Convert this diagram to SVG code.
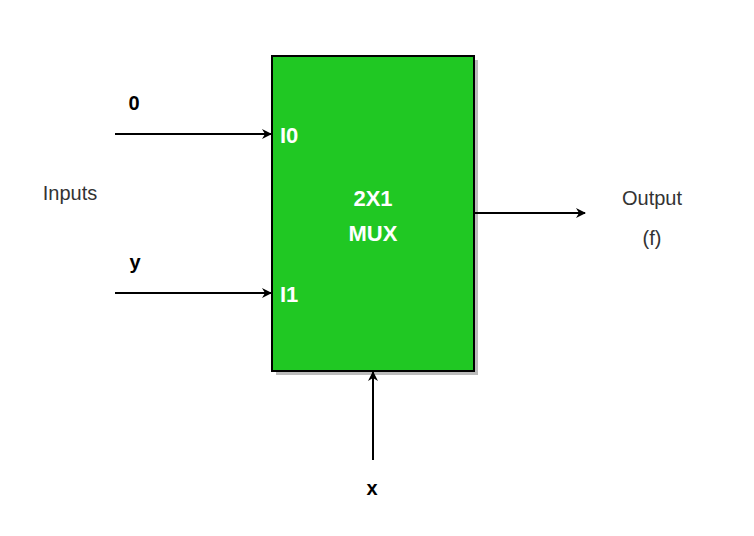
<svg xmlns="http://www.w3.org/2000/svg" width="754" height="536" viewBox="0 0 754 536">
<style>
.b{font-family:"Liberation Sans",Arial,sans-serif;font-weight:bold;font-size:20px;fill:#000}
.w{font-family:"Liberation Sans",Arial,sans-serif;font-weight:bold;font-size:22px;fill:#fff}
.n{font-family:"Liberation Sans",Arial,sans-serif;font-size:20px;fill:#333}
.c{stroke:#000;stroke-width:2;fill:none;marker-end:url(#a)}
</style>
<defs><marker id="a" markerWidth="10" markerHeight="10" refX="9" refY="5" orient="auto" markerUnits="userSpaceOnUse"><path d="M0,0 L10,5 L0,10 L3,5 Z" fill="#000"/></marker></defs>
<rect width="754" height="536" fill="#fff"/>
<g id="mux">
<rect x="276" y="60" width="202" height="315" fill="#bbb"/>
<rect x="272" y="56" width="202" height="315" fill="#20c823" stroke="#000" stroke-width="2"/>
<text class="w" x="280" y="143">I0</text>
<text class="w" x="280" y="302">I1</text>
<text class="w" x="373" y="206" text-anchor="middle">2X1</text>
<text class="w" x="373" y="241" text-anchor="middle">MUX</text>
</g>
<g id="labels">
<text class="b" x="134" y="110" text-anchor="middle">0</text>
<text class="b" x="135" y="269" text-anchor="middle">y</text>
<text class="n" x="70" y="200" text-anchor="middle">Inputs</text>
<text class="n" x="652" y="205" text-anchor="middle">Output</text>
<text class="n" x="652" y="245" text-anchor="middle">(f)</text>
<text class="b" x="372" y="495" text-anchor="middle">x</text>
</g>
<g id="connectors">
<path class="c" d="M115,134 H271"/>
<path class="c" d="M115,293 H271"/>
<path class="c" d="M474,213 H585"/>
<path class="c" d="M373,460 V372"/>
</g>
</svg>
